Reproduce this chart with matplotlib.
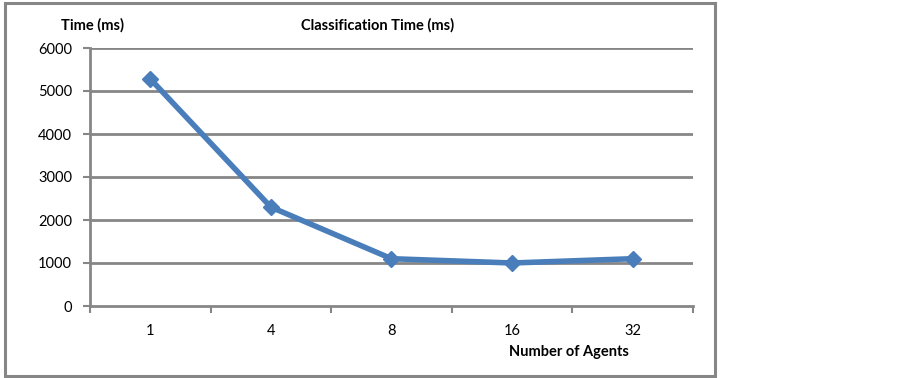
import matplotlib
matplotlib.use("Agg")
import matplotlib.pyplot as plt
from matplotlib.patches import Rectangle

categories = ["1", "4", "8", "16", "32"]
times_ms = [5280, 2300, 1100, 1000, 1100]
yticks = [0, 1000, 2000, 3000, 4000, 5000, 6000]

W, H = 903, 378
fig = plt.figure(figsize=(W / 100, H / 100), dpi=100)
plt.rcParams['font.family'] = ['Lato', 'DejaVu Sans']
gray = "#868686"
blue = "#4A7EBB"

# outer border
fig.patches.append(Rectangle((5 / W, 2 / H), 710 / W, 373 / H, transform=fig.transFigure,
                             fill=False, edgecolor=gray, linewidth=2.2))

ax = fig.add_axes([90 / W, (H - 306) / H, (693 - 90) / W, (306 - 48) / H])
n = len(categories)
xs = [i + 0.5 for i in range(n)]
ax.plot(xs, times_ms, color=blue, linewidth=4, marker='D', markersize=8.5,
        markerfacecolor=blue, markeredgecolor=blue, zorder=3, clip_on=False)

ax.set_xlim(0, n)
ax.set_ylim(0, 6000)
ax.set_yticks(yticks)
ax.set_yticklabels([str(v) for v in yticks], fontsize=10.5)
ax.set_xticks(range(n + 1))
ax.set_xticklabels([])
ax.set_xticks(xs, minor=True)
ax.set_xticklabels(categories, minor=True, fontsize=10.5)
ax.tick_params(axis='x', which='major', length=5, width=1.5, color=gray, direction='out')
ax.tick_params(axis='x', which='minor', length=0, pad=13)
ax.tick_params(axis='y', length=5, width=1.5, color=gray, direction='out', pad=8)

for y in yticks[1:]:
    ax.axhline(y, color=gray, linewidth=2, zorder=1)
for s in ['top', 'right']:
    ax.spines[s].set_visible(False)
for s in ['left', 'bottom']:
    ax.spines[s].set_color(gray)
    ax.spines[s].set_linewidth(2)

fig.text(93 / W, 1 - 25 / H, "Time (ms)", ha='center', va='center', fontsize=10.5, fontweight='bold')
fig.text(378 / W, 1 - 25 / H, "Classification Time (ms)", ha='center', va='center', fontsize=10.5, fontweight='bold')
fig.text(569 / W, 1 - 352 / H, "Number of Agents", ha='center', va='center', fontsize=10.5, fontweight='bold')

fig.savefig("out.png", dpi=100)
